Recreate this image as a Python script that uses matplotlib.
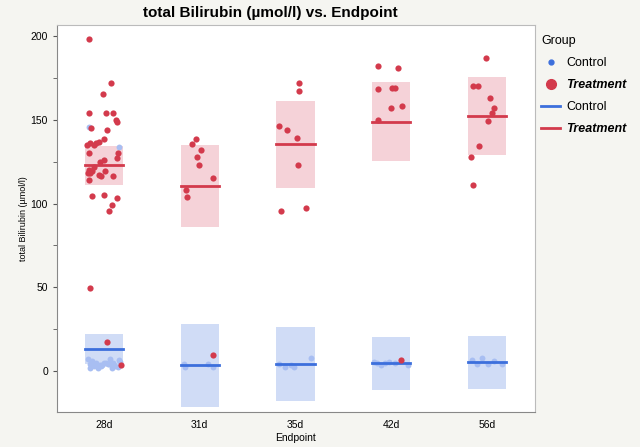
import matplotlib.pyplot as plt
from matplotlib.lines import Line2D
from matplotlib.patches import Rectangle
from matplotlib.ticker import MultipleLocator

plt.rcParams['font.family'] = ['Liberation Sans', 'DejaVu Sans']

endpoints = ['28d', '31d', '35d', '42d', '56d']

# group means and half-width of the shaded bands
trt_mean = [122.9, 110.6, 135.5, 149.0, 152.4]
trt_half = [11.7, 24.5, 26.0, 23.4, 23.2]
ctl_mean = [13.1, 3.6, 4.2, 4.6, 5.4]
ctl_half = [8.8, 24.8, 22.0, 15.6, 15.8]

# Treatment points: endpoint index, jitter, value
trt_ep = [0] * 39 + [1] * 9 + [2] * 8 + [3] * 9 + [4] * 10
trt_jit = [-0.16, 0.07, -0.01, -0.16, 0.02, 0.10, 0.13, 0.135, -0.13, 0.03,
           0.0, -0.18, -0.14, -0.10, -0.08, -0.05, 0.146, -0.16, 0.14, 0.0,
           -0.04, -0.10, -0.16, -0.12, 0.01, -0.17, -0.14, -0.05, -0.03, 0.09,
           -0.16, -0.12, 0.0, 0.14, 0.08, 0.05, -0.14, 0.03, 0.18,
           -0.04, -0.08, 0.01, -0.03, -0.01, 0.14, -0.14, -0.13, 0.14,
           0.04, 0.04, -0.17, -0.09, 0.02, 0.03, -0.15, 0.11,
           -0.135, 0.066, -0.135, 0.01, 0.035, 0.0, 0.11, -0.14, 0.10,
           -0.01, -0.15, -0.10, 0.03, 0.07, 0.05, 0.01, -0.09, -0.17, -0.15]
trt_val = [198, 172.1, 165.2, 154.2, 154.2, 154.2, 150.2, 149, 145.2, 144.2,
           138.3, 135.1, 135.9, 134.7, 135.9, 136.9, 130.3, 130.1, 127.1, 125.9,
           124.9, 121.9, 120.1, 119.4, 119.2, 118.3, 118.1, 117, 116.4, 116.4,
           114.2, 104.4, 105.4, 103.2, 99.2, 95.3, 49.4, 17.3, 3.4,
           138.6, 135.5, 132.1, 128.1, 122.9, 115.2, 108.2, 104.2, 9.4,
           172.1, 167.1, 146.1, 144.1, 139.3, 123.1, 95.3, 97.3,
           182.3, 181.1, 168.2, 169.1, 169.1, 157, 158, 150.2, 6.4,
           187, 170.1, 170.1, 163.1, 157.2, 153.8, 149.2, 134.1, 128.1, 111.2]

# Control points: endpoint index, jitter, value
ctl_ep = [0] * 24 + [1] * 4 + [2] * 5 + [3] * 7 + [4] * 6
ctl_jit = [-0.156, 0.156, -0.17, -0.14, -0.12, -0.10, -0.08, -0.06, -0.04,
           -0.02, 0.0, 0.02, 0.04, 0.06, 0.08, 0.10, 0.12, 0.15, 0.16, -0.15,
           -0.03, 0.05, 0.11, 0.17,
           -0.16, -0.15, 0.09, 0.14,
           -0.17, -0.115, -0.05, -0.02, 0.16,
           -0.18, -0.15, -0.11, -0.07, -0.02, 0.04, 0.17,
           -0.16, -0.11, -0.05, 0.01, 0.07, 0.15]
ctl_val = [146, 134, 7.0, 1.9, 5.8, 3.0, 4.6, 1.9, 3.8, 3.6, 4.6, 4.9, 4.2,
           7.0, 1.9, 5.0, 3.2, 2.5, 6.5, 4.0, 2.8, 4.4, 3.5, 5.5,
           4.2, 2.4, 4.4, 2.4,
           4.4, 2.4, 3.4, 2.4, 7.6,
           5.6, 4.6, 3.6, 4.6, 5.6, 5.0, 3.4,
           6.6, 4.2, 7.6, 4.4, 6.2, 4.2]

red = '#D33A4C'
blue = '#3C6FDC'
light_blue = '#A8BEF2'
pink_fill = '#F5D2D8'
blue_fill = '#D0DCF6'
bg = '#F5F5F1'

fig = plt.figure(figsize=(6.4, 4.47), dpi=100, facecolor=bg)
ax = fig.add_axes([0.089, 0.078, 0.747, 0.866])
ax.set_facecolor('white')

w = 0.2
for i in range(len(endpoints)):
    ax.add_patch(Rectangle((i - w, trt_mean[i] - trt_half[i]), 2 * w, 2 * trt_half[i],
                           facecolor=pink_fill, edgecolor='none', zorder=1))
    ax.add_patch(Rectangle((i - w, ctl_mean[i] - ctl_half[i]), 2 * w, 2 * ctl_half[i],
                           facecolor=blue_fill, edgecolor='none', zorder=1))

ctl_x = [e + j for e, j in zip(ctl_ep, ctl_jit)]
trt_x = [e + j for e, j in zip(trt_ep, trt_jit)]
ax.scatter(ctl_x, ctl_val, s=18, color=light_blue, linewidths=0, zorder=2)
ax.scatter(trt_x, trt_val, s=20, color=red, linewidths=0, zorder=4)

for i in range(len(endpoints)):
    ax.plot([i - w, i + w], [ctl_mean[i], ctl_mean[i]], color=blue, lw=2, zorder=3)
    ax.plot([i - w, i + w], [trt_mean[i], trt_mean[i]], color=red, lw=2, zorder=3)

ax.set_xlim(-0.49, 4.5)
ax.set_ylim(-24.5, 206.6)
ax.set_xticks(range(len(endpoints)))
ax.set_xticklabels(endpoints)
ax.yaxis.set_major_locator(MultipleLocator(50))
ax.yaxis.set_minor_locator(MultipleLocator(25))
ax.tick_params(axis='both', labelsize=7.5, colors='#555555', labelcolor='black', length=3)
ax.tick_params(axis='y', which='minor', length=3, colors='#555555')
ax.tick_params(axis='x', length=0, pad=6)
for side in ['top', 'right']:
    ax.spines[side].set_color('#BBBBBB')
for side in ['left', 'bottom']:
    ax.spines[side].set_color('#888888')

ax.set_xlabel('Endpoint', fontsize=7.5, labelpad=2)
ax.set_ylabel('total Bilirubin (µmol/l)', fontsize=6.5, labelpad=2)
fig.text(0.423, 0.971, 'total Bilirubin (µmol/l) vs. Endpoint', fontsize=11,
         fontweight='bold', ha='center', va='center')

handles = [
    Line2D([], [], marker='o', ls='none', color=blue, markersize=3.5),
    Line2D([], [], marker='o', ls='none', color=red, markersize=7),
    Line2D([], [], color=blue, lw=2),
    Line2D([], [], color=red, lw=2),
]
labels = ['Control', 'Treatment', 'Control', 'Treatment']
leg = fig.legend(handles, labels, title='Group', loc='upper left',
                 bbox_to_anchor=(0.838, 0.932), frameon=False, fontsize=9,
                 title_fontsize=9, handlelength=1.5, handletextpad=0.5,
                 labelspacing=0.8, borderaxespad=0)
leg._legend_box.align = 'left'
for t in leg.get_texts():
    if t.get_text() == 'Treatment':
        t.set_fontweight('bold')
        t.set_fontstyle('italic')

fig.savefig('out.png', dpi=100, facecolor=bg)
